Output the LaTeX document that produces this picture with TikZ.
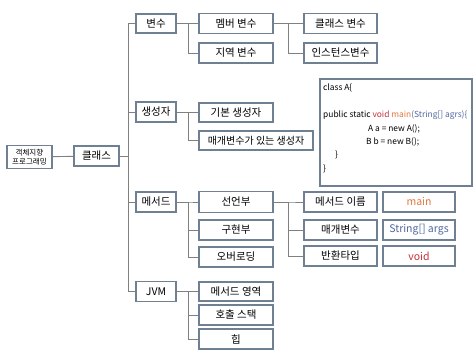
\documentclass[tikz,border=0pt]{standalone}
\usepackage{fontspec}
\setmainfont{Noto Sans CJK KR}
\usepackage{xcolor}
\usetikzlibrary{positioning}
\definecolor{boxline}{HTML}{6F8092}
\definecolor{connline}{HTML}{808080}
\definecolor{kwred}{HTML}{C8323C}
\definecolor{kworange}{HTML}{E0773E}
\definecolor{kwblue}{HTML}{4F68A0}
\tikzset{
    % Box styles
    box/.style={rectangle, draw=boxline, line width=1.2pt, fill=white,
                minimum height=20pt, inner sep=1pt, font=\fontsize{10.5}{12}\selectfont},
    head box/.style={box, minimum width=40pt},
    leaf box/.style={box, minimum width=74pt},
    info box/.style={box, minimum width=73pt},
    value box/.style={box, minimum width=72pt},
    % Connector style
    conn/.style={draw=connline, line width=0.9pt},
}

\begin{document}
\begin{tikzpicture}[x=1pt, y=-1pt]
    \useasboundingbox (0,0) rectangle (474,355);

    % root
    \node[box, minimum width=45pt, minimum height=23pt, align=center,
          font=\fontsize{7.5}{9.5}\selectfont] (oop) at (29.5,157) {객체지향\\프로그래밍};
    \node[box, minimum width=45pt] (cls) at (96.5,156) {클래스};
    \draw[conn] (oop) -- (cls);

    % members of the class
    \node[head box, minimum height=19pt] (var) at (156,23.5) {변수};
    \node[head box] (ctor) at (156,112) {생성자};
    \node[head box] (meth) at (156,202) {메서드};
    \node[head box] (jvm) at (156,291.5) {JVM};
    \foreach \n in {var, ctor, meth, jvm}
        \draw[conn] (cls.east) -- ++(9,0) |- (\n.west);

    % variables
    \node[leaf box] (mem) at (236,23.5) {멤버 변수};
    \node[leaf box] (loc) at (236,53) {지역 변수};
    \node[info box] (cvar) at (340.5,23.5) {클래스 변수};
    \node[info box] (ivar) at (340.5,53) {인스턴스변수};
    \foreach \n in {mem, loc}
        \draw[conn] (var.east) -- ++(12,0) |- (\n.west);
    \foreach \n in {cvar, ivar}
        \draw[conn] (mem.east) -- ++(15,0) |- (\n.west);

    % constructors
    \node[leaf box, minimum height=19pt] (basic) at (236,112.5) {기본 생성자};
    \node[box, minimum width=114pt, minimum height=19pt,
          font=\fontsize{10}{12}\selectfont] (pctor) at (256,140.5) {매개변수가 있는 생성자};
    \foreach \n in {basic, pctor}
        \draw[conn] (ctor.east) -- ++(12,0) |- (\n.west);

    % code sample
    \node[rectangle, draw=boxline, line width=1.2pt, fill=white,
          minimum width=152pt, minimum height=107pt] (code) at (396,132.5) {};
    \node[anchor=north west, align=left, inner sep=0pt,
          font=\fontsize{8.4}{13.4}\selectfont] (codetext) at (323,84)
        {class A\{\\
         \mbox{}\\
         public static \textcolor{kwred}{void} \textcolor{kworange}{main}\textcolor{kwblue}{(String[] agrs)\{}\\
         \hspace*{45pt}A a = new A();\\
         \hspace*{43pt}B b = new B();\\
         \hspace*{12pt}\}\\
         \}};

    % methods
    \node[leaf box, minimum height=21pt] (decl) at (236,202) {선언부};
    \node[leaf box] (impl) at (236,230) {구현부};
    \node[leaf box] (over) at (236,257) {오버로딩};
    \foreach \n in {decl, impl, over}
        \draw[conn] (meth.east) -- ++(12,0) |- (\n.west);

    \node[info box] (mname) at (340.5,202) {메서드 이름};
    \node[info box] (mparam) at (340.5,230) {매개변수};
    \node[info box] (mret) at (340.5,256) {반환타입};
    \foreach \n in {mname, mparam, mret}
        \draw[conn] (decl.east) -- ++(15,0) |- (\n.west);

    \node[value box, text=kworange] (vmain) at (419,202) {main};
    \node[value box, text=kwblue] (vargs) at (419,230) {String[] args};
    \node[value box, text=kwred] (vvoid) at (419,256) {void};

    % JVM
    \node[leaf box, minimum height=19pt] (marea) at (236,291.5) {메서드 영역};
    \node[leaf box] (stack) at (236,315) {호출 스택};
    \node[leaf box] (heap) at (236,339) {힙};
    \foreach \n in {marea, stack, heap}
        \draw[conn] (jvm.east) -- ++(12,0) |- (\n.west);
\end{tikzpicture}
\end{document}
